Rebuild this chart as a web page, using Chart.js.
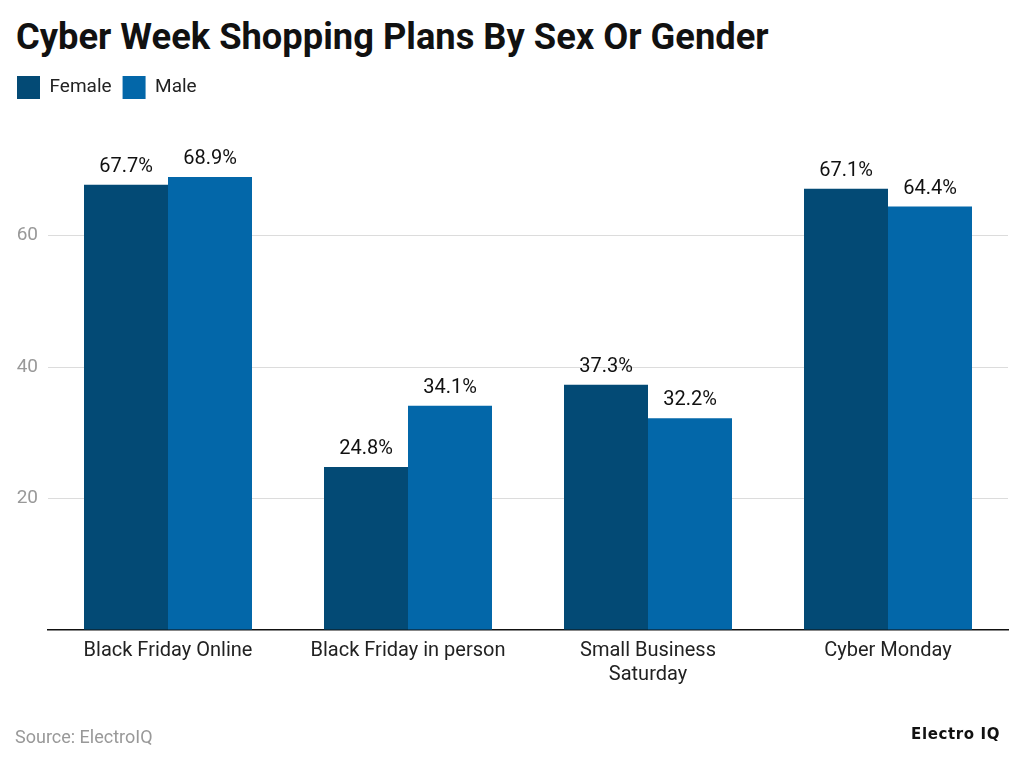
<!DOCTYPE html>
<html>
<head>
<meta charset="utf-8">
<script src="https://cdn.jsdelivr.net/npm/chart.js@4.4.0/dist/chart.umd.min.js"></script>
<style>
  html, body { margin: 0; padding: 0; background: #fff; }
  body { width: 1024px; height: 761px; position: relative; overflow: hidden; font-family: Roboto, "Noto Sans", sans-serif; }
  #title { position: absolute; left: 16px; top: 19px; font-size: 36.3px; line-height: 36px; font-weight: 700; color: #111; white-space: nowrap; }
  #wrap { position: absolute; left: 0; top: 0; width: 1024px; height: 761px; }
  #source { position: absolute; left: 15px; top: 726px; font-size: 18px; color: #999; }
  #brand { position: absolute; right: 24px; top: 725px; font-size: 15px; font-weight: 900; color: #111; letter-spacing: 0.6px; font-family: "DejaVu Sans", Roboto, sans-serif; }
</style>
</head>
<body>
<div id="title">Cyber Week Shopping Plans By Sex Or Gender</div>
<div id="wrap"><canvas id="chart"></canvas></div>
<div id="source">Source: ElectroIQ</div>
<div id="brand">Electro IQ</div>
<script>
const categories = ["Black Friday Online", ["Black Friday in person"], ["Small Business", "Saturday"], "Cyber Monday"];
const femaleValues = [67.7, 24.8, 37.3, 67.1];
const maleValues = [68.9, 34.1, 32.2, 64.4];
const seriesNames = ["Female", "Male"];
const yTicks = [20, 40, 60];

// labels above each bar
const barLabels = {
  id: "barLabels",
  afterDatasetsDraw(chart) {
    const ctx = chart.ctx;
    ctx.save();
    ctx.font = "20px Roboto";
    ctx.fillStyle = "#111";
    ctx.textAlign = "center";
    ctx.textBaseline = "bottom";
    chart.data.datasets.forEach((ds, i) => {
      chart.getDatasetMeta(i).data.forEach((bar, j) => {
        ctx.fillText(ds.data[j].toFixed(1) + "%", bar.x, bar.y - 8);
      });
    });
    ctx.restore();
  },
};

// pull the plot a bit closer to the legend
const tightLegend = {
  id: "tightLegend",
  beforeInit(chart) {
    const fit = chart.legend.fit;
    chart.legend.fit = function () {
      fit.call(this);
      this.height -= 5;
    };
  },
};

const ctx = document.getElementById("chart").getContext("2d");
new Chart(ctx, {
  type: "bar",
  data: {
    labels: categories,
    datasets: [
      { label: seriesNames[0], data: femaleValues, backgroundColor: "#034a75", borderWidth: 0 },
      { label: seriesNames[1], data: maleValues, backgroundColor: "#0367a9", borderWidth: 0 },
    ],
  },
  options: {
    responsive: true,
    maintainAspectRatio: false,
    animation: false,
    layout: { padding: { top: 65, left: 6, right: 16, bottom: 71 } },
    datasets: { bar: { categoryPercentage: 0.7, barPercentage: 1.0 } },
    scales: {
      x: {
        grid: { display: false, drawTicks: false },
        border: { display: true, color: "#111", width: 1.5 },
        ticks: { color: "#222", font: { size: 20, family: "Roboto" }, padding: 9, maxRotation: 0, autoSkip: false },
        afterFit(scale) { scale.height = 60; },
      },
      y: {
        min: 0,
        max: 80,
        afterBuildTicks(scale) {
          scale.ticks = [0, ...yTicks, 80].map((v) => ({ value: v }));
        },
        grid: {
          drawTicks: false,
          color: (c) => (c.tick && yTicks.includes(c.tick.value) ? "#dcdcdc" : "rgba(0,0,0,0)"),
        },
        border: { display: false },
        ticks: {
          color: "#999",
          font: { size: 19, family: "Roboto" },
          padding: 10,
          callback: (v) => (yTicks.includes(v) ? v : ""),
        },
        afterFit(scale) { scale.width = 42; },
      },
    },
    plugins: {
      legend: {
        position: "top",
        align: "start",
        labels: { boxWidth: 23, boxHeight: 23, padding: 11, color: "#222", font: { size: 19, family: "Roboto" } },
      },
      tooltip: { enabled: false },
    },
  },
  plugins: [barLabels, tightLegend],
});
</script>
</body>
</html>
